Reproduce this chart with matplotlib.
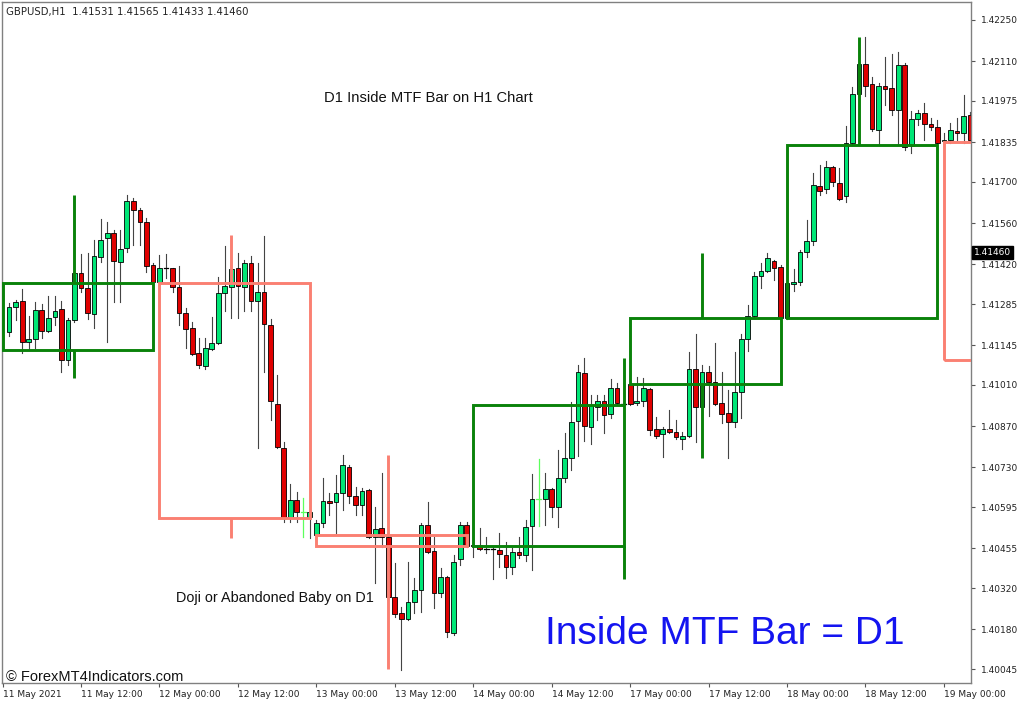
import matplotlib
matplotlib.use("Agg")
import matplotlib.pyplot as plt
from matplotlib.patches import Rectangle

# H1 candles, bar index 1..148 (bar 0 = 11 May 00:00)
opens = [1.41190, 1.41275, 1.41295, 1.41156, 1.41166, 1.41265, 1.41193, 1.41241, 1.41268, 1.41095,
         1.41231, 1.41390, 1.41340, 1.41251, 1.41445, 1.41509, 1.41526, 1.41428, 1.41475, 1.41635,
         1.41605, 1.41564, 1.41418, 1.41360, 1.41407, 1.41407, 1.41343, 1.41255, 1.41204, 1.41119,
         1.41075, 1.41132, 1.41153, 1.41323, 1.41343, 1.41407, 1.41343, 1.41424, 1.41295, 1.41326,
         1.41214, 1.40945, 1.40796, 1.40558, 1.40619, 1.40578, 1.40561, 1.40500, 1.40541, 1.40616,
         1.40612, 1.40643, 1.40731, 1.40633, 1.40602, 1.40653, 1.40494, 1.40524, 1.40494, 1.40290,
         1.40235, 1.40215, 1.40273, 1.40313, 1.40534, 1.40446, 1.40303, 1.40358, 1.40167, 1.40419,
         1.40534, 1.40466, 1.40466, 1.40453, 1.40453, 1.40449, 1.40432, 1.40392, 1.40443, 1.40432,
         1.40531, 1.40623, 1.40623, 1.40657, 1.40595, 1.40694, 1.40762, 1.40888, 1.41051, 1.40867,
         1.40935, 1.40956, 1.40911, 1.41000, 1.40945, 1.41013, 1.40949, 1.40956, 1.40996, 1.40860,
         1.40843, 1.40860, 1.40850, 1.40826, 1.40837, 1.41064, 1.40935, 1.41054, 1.41020, 1.40949,
         1.40915, 1.40884, 1.40986, 1.41166, 1.41244, 1.41380, 1.41397, 1.41431, 1.41411, 1.41238,
         1.41353, 1.41360, 1.41462, 1.41499, 1.41686, 1.41676, 1.41751, 1.41696, 1.41652, 1.41832,
         1.41999, 1.42101, 1.42033, 1.41876, 1.42026, 1.42019, 1.41944, 1.42097, 1.41822, 1.41914,
         1.41934, 1.41897, 1.41887, 1.41839, 1.41842, 1.41873, 1.41866, 1.41927]
highs = [1.41289, 1.41299, 1.41336, 1.41244, 1.41292, 1.41285, 1.41312, 1.41312, 1.41295, 1.41238,
         1.41428, 1.41455, 1.41458, 1.41503, 1.41574, 1.41564, 1.41537, 1.41537, 1.41655, 1.41645,
         1.41611, 1.41577, 1.41424, 1.41452, 1.41455, 1.41408, 1.41414, 1.41272, 1.41224, 1.41170,
         1.41170, 1.41241, 1.41377, 1.41482, 1.41428, 1.41458, 1.41435, 1.41448, 1.41424, 1.41516,
         1.41234, 1.41044, 1.40816, 1.40674, 1.40646, 1.40626, 1.40582, 1.40551, 1.40694, 1.40643,
         1.40704, 1.40772, 1.40738, 1.40663, 1.40660, 1.40657, 1.40595, 1.40711, 1.40507, 1.40405,
         1.40256, 1.40409, 1.40354, 1.40541, 1.40612, 1.40494, 1.40388, 1.40361, 1.40432, 1.40545,
         1.40545, 1.40483, 1.40524, 1.40494, 1.40460, 1.40507, 1.40477, 1.40456, 1.40494, 1.40551,
         1.40708, 1.40759, 1.40711, 1.40660, 1.40789, 1.40847, 1.40952, 1.41078, 1.41102, 1.40976,
         1.40976, 1.40976, 1.41030, 1.41017, 1.40959, 1.41017, 1.41037, 1.41034, 1.41000, 1.40901,
         1.40867, 1.40925, 1.40891, 1.40850, 1.41122, 1.41183, 1.41078, 1.41075, 1.41153, 1.41054,
         1.40993, 1.41122, 1.41183, 1.41282, 1.41394, 1.41424, 1.41458, 1.41435, 1.41418, 1.41363,
         1.41404, 1.41469, 1.41571, 1.41730, 1.41757, 1.41771, 1.41754, 1.41747, 1.41890, 1.42022,
         1.42114, 1.42192, 1.42056, 1.42036, 1.42124, 1.42135, 1.42141, 1.42104, 1.41941, 1.41944,
         1.41968, 1.41917, 1.41910, 1.41866, 1.41900, 1.41917, 1.41995, 1.41937]
lows = [1.41176, 1.41231, 1.41119, 1.41132, 1.41136, 1.41170, 1.41190, 1.41214, 1.41054, 1.41078,
        1.41224, 1.41326, 1.41234, 1.41204, 1.41428, 1.41156, 1.41292, 1.41292, 1.41462, 1.41486,
        1.41486, 1.41394, 1.41350, 1.41353, 1.41373, 1.41326, 1.41214, 1.41136, 1.41112, 1.41068,
        1.41064, 1.41129, 1.41149, 1.41261, 1.41238, 1.41238, 1.41261, 1.41261, 1.40796, 1.41054,
        1.40891, 1.40796, 1.40545, 1.40545, 1.40545, 1.40494, 1.40490, 1.40483, 1.40528, 1.40568,
        1.40507, 1.40585, 1.40609, 1.40568, 1.40568, 1.40490, 1.40337, 1.40460, 1.40280, 1.40222,
        1.40042, 1.40212, 1.40235, 1.40239, 1.40439, 1.40252, 1.40290, 1.40154, 1.40161, 1.40398,
        1.40460, 1.40426, 1.40449, 1.40439, 1.40351, 1.40392, 1.40354, 1.40368, 1.40422, 1.40412,
        1.40381, 1.40531, 1.40534, 1.40561, 1.40528, 1.40680, 1.40721, 1.40769, 1.40820, 1.40810,
        1.40891, 1.40847, 1.40898, 1.40945, 1.40932, 1.40942, 1.40942, 1.40939, 1.40840, 1.40830,
        1.40765, 1.40847, 1.40826, 1.40793, 1.40833, 1.40816, 1.40908, 1.40905, 1.40942, 1.40881,
        1.40762, 1.40867, 1.40898, 1.41125, 1.41241, 1.41340, 1.41394, 1.41367, 1.41234, 1.41234,
        1.41329, 1.41350, 1.41445, 1.41486, 1.41655, 1.41662, 1.41686, 1.41639, 1.41632, 1.41825,
        1.41992, 1.41992, 1.41873, 1.41825, 1.41961, 1.41927, 1.41825, 1.41808, 1.41798, 1.41893,
        1.41842, 1.41876, 1.41829, 1.41832, 1.41832, 1.41842, 1.41832, 1.41835]
closes = [1.41275, 1.41292, 1.41156, 1.41166, 1.41265, 1.41193, 1.41238, 1.41261, 1.41095, 1.41231,
          1.41390, 1.41340, 1.41255, 1.41448, 1.41503, 1.41526, 1.41431, 1.41472, 1.41635, 1.41605,
          1.41564, 1.41414, 1.41360, 1.41407, 1.41407, 1.41343, 1.41255, 1.41200, 1.41115, 1.41078,
          1.41136, 1.41153, 1.41323, 1.41346, 1.41404, 1.41346, 1.41424, 1.41295, 1.41326, 1.41217,
          1.40956, 1.40799, 1.40558, 1.40619, 1.40578, 1.40578, 1.40578, 1.40541, 1.40616, 1.40609,
          1.40643, 1.40738, 1.40633, 1.40602, 1.40650, 1.40494, 1.40521, 1.40494, 1.40290, 1.40232,
          1.40215, 1.40273, 1.40313, 1.40534, 1.40443, 1.40303, 1.40358, 1.40171, 1.40409, 1.40534,
          1.40463, 1.40463, 1.40453, 1.40453, 1.40453, 1.40436, 1.40392, 1.40443, 1.40432, 1.40528,
          1.40623, 1.40623, 1.40657, 1.40595, 1.40694, 1.40762, 1.40884, 1.41054, 1.40871, 1.40942,
          1.40956, 1.40908, 1.41000, 1.40949, 1.40945, 1.40945, 1.40956, 1.41000, 1.40857, 1.40837,
          1.40860, 1.40850, 1.40833, 1.40837, 1.41064, 1.40935, 1.41054, 1.41020, 1.40945, 1.40911,
          1.40884, 1.40986, 1.41166, 1.41244, 1.41380, 1.41397, 1.41441, 1.41407, 1.41238, 1.41357,
          1.41360, 1.41462, 1.41499, 1.41689, 1.41669, 1.41751, 1.41700, 1.41642, 1.41832, 1.41999,
          1.42101, 1.42026, 1.41880, 1.42026, 1.42016, 1.41944, 1.42097, 1.41819, 1.41914, 1.41934,
          1.41897, 1.41887, 1.41832, 1.41842, 1.41876, 1.41866, 1.41924, 1.41842]
lime_bars = [46, 82]

# D1 bars drawn over the H1 chart (box = body, line = high/low)
mtf_start = [0, 24, 48, 72, 96, 120, 144]
mtf_end = [23, 47, 71, 95, 119, 143, 167]
mtf_wick_bar = [11, 35, 59, 95, 107, 131, 155]
mtf_open = [1.41129, 1.41357, 1.40500, 1.40463, 1.41013, 1.41238, 1.41836]
mtf_close = [1.41357, 1.40558, 1.40463, 1.40942, 1.41238, 1.41825, 1.41095]
mtf_high = [1.41655, 1.41520, 1.40772, 1.41102, 1.41458, 1.42192, 1.41836]
mtf_low = [1.41034, 1.40490, 1.40045, 1.40351, 1.40762, 1.41238, 1.41095]

ytick_labels = ['1.42250', '1.42110', '1.41975', '1.41835', '1.41700', '1.41560', '1.41420', '1.41285',
                '1.41145', '1.41010', '1.40870', '1.40730', '1.40595', '1.40455', '1.40320', '1.40180',
                '1.40045']
xtick_bars = [0, 12, 24, 36, 48, 60, 72, 84, 96, 108, 120, 132, 144]
xtick_labels = ['11 May 2021', '11 May 12:00', '12 May 00:00', '12 May 12:00', '13 May 00:00',
                '13 May 12:00', '14 May 00:00', '14 May 12:00', '17 May 00:00', '17 May 12:00',
                '18 May 00:00', '18 May 12:00', '19 May 00:00']
last_price = 1.41460

W, H = 1024, 705
fig = plt.figure(figsize=(W / 100, H / 100), dpi=100)
ax = fig.add_axes([2 / W, (H - 683) / H, (971 - 2) / W, (683 - 2) / H])
ax.set_xlim(-0.09, 148.14)
ax.set_ylim(1.399975, 1.42311)

BULL = '#00e676'
BEAR = '#e00000'
bw = 0.72
for i in range(len(opens)):
    x = i + 1
    o, h, l, c = opens[i], highs[i], lows[i], closes[i]
    if x in lime_bars:
        ax.plot([x, x], [l, h], color='#5cff5c', lw=0.9, zorder=2)
        ax.plot([x - bw / 2, x + bw / 2], [o, o], color='#5cff5c', lw=0.9, zorder=2)
        continue
    ax.plot([x, x], [l, h], color='#444444', lw=0.8, zorder=1)
    if c == o:
        ax.plot([x - bw / 2, x + bw / 2], [o, o], color='black', lw=0.9, zorder=2)
    else:
        fc = BULL if c > o else BEAR
        ax.add_patch(Rectangle((x - bw / 2, min(o, c)), bw, abs(c - o),
                               facecolor=fc, edgecolor='black', lw=0.6, zorder=2))

for s, e, wb, o, c, hi, lo in zip(mtf_start, mtf_end, mtf_wick_bar, mtf_open, mtf_close, mtf_high, mtf_low):
    col = '#0a820a' if c > o else '#fa8072'
    top, bot = max(o, c), min(o, c)
    ax.add_patch(Rectangle((s, bot), e - s, top - bot, fill=False, edgecolor=col, lw=2.1, zorder=3))
    ax.plot([wb, wb], [top, hi], color=col, lw=2.1, zorder=3, solid_capstyle='butt')
    ax.plot([wb, wb], [lo, bot], color=col, lw=2.1, zorder=3, solid_capstyle='butt')

ax.yaxis.tick_right()
ax.set_yticks([float(t) for t in ytick_labels])
ax.set_yticklabels(ytick_labels)
ax.set_xticks(xtick_bars)
ax.set_xticklabels(xtick_labels, ha='left')
ax.tick_params(axis='both', labelsize=6.5, length=3, width=0.8, color='#555555', labelcolor='#222222')
ax.tick_params(axis='y', pad=4)
ax.tick_params(axis='x', pad=2)
for sp in ax.spines.values():
    sp.set_color('#808080')
    sp.set_linewidth(1)

ax.text(1.003, last_price, '1.41460', transform=ax.get_yaxis_transform(), ha='left', va='center',
        fontsize=6.5, color='white', bbox=dict(boxstyle='square,pad=0.2', facecolor='black', edgecolor='black'))

fig.text(6 / W, 1 - 12 / H, 'GBPUSD,H1  1.41531 1.41565 1.41433 1.41460', fontsize=7.3,
         color='#222222', va='center', ha='left')
fig.text(428 / W, 1 - 98 / H, 'D1 Inside MTF Bar on H1 Chart', family='Liberation Sans', fontsize=10.6,
         ha='center', va='center', color='#111111')
fig.text(176 / W, 1 - 598 / H, 'Doji or Abandoned Baby on D1', family='Liberation Sans', fontsize=10.4,
         ha='left', va='center', color='#111111')
fig.text(545 / W, 1 - 634 / H, 'Inside MTF Bar = D1', family='Liberation Sans', fontsize=28,
         ha='left', va='center', color='#1414f0')
fig.text(6 / W, 1 - 677 / H, '\u00a9 ForexMT4Indicators.com', family='Liberation Sans', fontsize=10.5,
         ha='left', va='center', color='#111111')

fig.savefig('out.png', dpi=100, facecolor='white')
